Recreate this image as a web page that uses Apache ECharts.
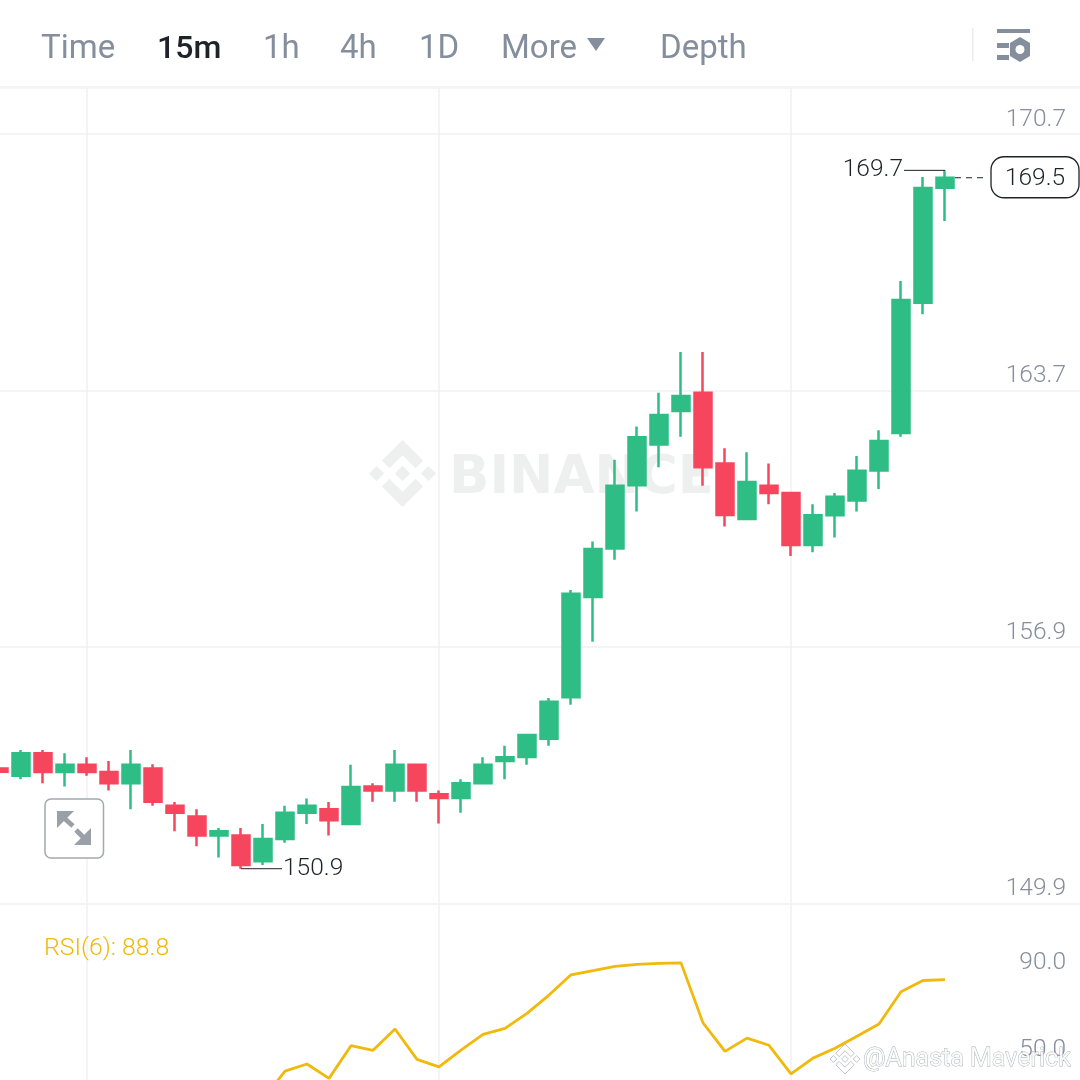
<!DOCTYPE html>
<html>
<head>
<meta charset="utf-8">
<title>15m chart</title>
<script src="https://cdn.jsdelivr.net/npm/echarts@6/dist/echarts.min.js"></script>
<style>
  html, body { margin: 0; padding: 0; background: #fff; }
  #chart { width: 1080px; height: 1080px; }
</style>
</head>
<body>
<div id="chart"></div>
<script>
const opens = [153.58,153.38,153.99,153.48,153.68,153.48,153.18,153.58,152.57,152.28,151.77,151.77,151.07,151.67,152.38,152.48,152.08,153.09,152.98,153.68,152.88,152.78,153.18,153.78,153.89,154.38,155.50,158.21,159.52,161.23,162.33,163.24,163.73,161.82,160.32,161.22,161.02,159.62,160.42,160.82,161.63,162.64,166.16,169.27];
const closes = [153.49,153.99,153.48,153.68,153.48,153.18,153.68,152.68,152.38,151.77,151.88,150.97,151.67,152.38,152.57,152.18,153.08,152.98,153.68,152.98,152.78,153.18,153.68,153.88,154.48,155.38,158.30,159.51,161.22,162.53,163.13,163.64,161.72,160.43,161.32,161.02,159.62,160.42,160.92,161.62,162.43,166.24,169.26,169.54];
const lows = [153.00,153.29,153.18,153.09,153.38,152.98,152.48,152.57,151.88,151.48,151.17,150.87,150.97,151.57,152.08,151.77,152.08,152.68,152.68,152.68,152.09,152.38,153.18,153.29,153.68,154.19,155.30,157.00,159.22,160.52,161.72,162.54,161.22,160.12,160.32,160.72,159.32,159.42,159.82,160.52,161.13,162.54,165.85,168.37];
const highs = [153.70,154.08,154.08,153.99,153.88,153.78,154.08,153.69,152.67,152.48,151.97,151.97,152.08,152.57,152.77,152.67,153.68,153.18,154.08,153.68,152.98,153.29,153.88,154.19,154.48,155.48,158.40,159.71,161.92,162.82,163.73,164.83,164.83,162.23,162.12,161.82,161.02,160.72,161.02,162.02,162.72,166.75,169.56,169.74];
const rsiValues = [null,null,null,null,null,null,null,null,null,null,null,null,33.9,46.7,50.0,43.4,58.4,56.3,66.1,52.1,48.7,56.4,63.6,66.4,73.3,81.7,91.0,92.9,94.9,95.8,96.3,96.5,68.9,55.8,61.9,58.6,45.5,52.7,57.2,62.8,68.4,83.2,88.4,88.8];
const priceTicks = [149.93,156.86,163.79,170.72];
const priceTickLabels = ['149.9','156.9','163.7','170.7'];
const rsiTicks = [50,90];
const rsiTickLabels = ['50.0','90.0'];
const timeLines = [4,20,36];
const periods = ['Time','15m','1h','4h','1D','More','Depth'];
const periodX = [41,157,263,340,419,501,660];
// index of candle, value, which side the label goes
const extremes = [[43,169.74,-1],[11,150.87,1]];

const GREEN = '#2ebd85', RED = '#f6465d', GOLD = '#f0b90b';
const GRAY = '#848e9c', DARK = '#1e2329', LINE = '#f0f1f4', MARK = '#eef0f0';
const FONT = 'Roboto';
const BINANCE_LOGO = 'M38.73 53.2l24.59-24.58 24.6 24.6 14.3-14.31L63.32 0 24.43 38.9z M0 63.31l14.3-14.31 14.31 14.31-14.31 14.3z M38.73 73.41l24.59 24.59 24.6-24.6 14.31 14.29-38.9 38.91-38.91-38.88v-.03z M98 63.31l14.3-14.31 14.31 14.3-14.31 14.32z M77.83 63.3L63.32 48.78 52.59 59.51l-1.24 1.23-2.54 2.54 14.51 14.5 14.51-14.47z';

// 50 bands of 22px, only 44 are filled
const categories = Array.from({length: 50}, (_, i) => String(i));
const candles = opens.map((o, i) => [o, closes[i], lows[i], highs[i]]);

let myChart = echarts.init(document.getElementById('chart'), null, {renderer: 'canvas'});

function xAxisFor(gridIndex) {
  return {
    type: 'category', gridIndex: gridIndex, data: categories, boundaryGap: true,
    axisLine: {show: false}, axisTick: {show: false}, axisLabel: {show: false},
    splitLine: {
      show: true, alignWithLabel: true,
      interval: (index) => timeLines.indexOf(index) >= 0,
      lineStyle: {color: LINE, width: 1.5}
    }
  };
}

function yLabel(ticks, labels) {
  return {
    show: true, inside: true, margin: 22, color: GRAY, fontFamily: FONT, fontWeight: 300, fontSize: 24.5,
    verticalAlign: 'bottom', padding: [0, 0, 2, 0], showMinLabel: true, showMaxLabel: true,
    customValues: ticks,
    formatter: (v) => labels[ticks.indexOf(v)]
  };
}

function renderExtreme(params, api) {
  const pt = api.coord([api.value(0), api.value(1)]);
  const side = api.value(2);
  const end = pt[0] + side * 41;
  return {
    type: 'group',
    children: [
      {type: 'line', shape: {x1: pt[0], y1: pt[1], x2: end, y2: pt[1]}, style: {stroke: DARK, lineWidth: 1}},
      {type: 'text', style: {
        x: end + side, y: pt[1], text: api.value(1).toFixed(1), fill: DARK,
        font: '300 24.5px ' + FONT, align: side < 0 ? 'right' : 'left', verticalAlign: 'middle'
      }}
    ]
  };
}

function renderLast(params, api) {
  const pt = api.coord([api.value(0), api.value(1)]);
  return {
    type: 'group',
    children: [
      {type: 'line', shape: {x1: pt[0] + 10, y1: pt[1], x2: 985, y2: pt[1]}, style: {stroke: DARK, lineWidth: 1, lineDash: [6, 5]}},
      {type: 'rect', shape: {x: 991, y: pt[1] - 21, width: 88, height: 41, r: 13}, style: {fill: '#fff', stroke: DARK, lineWidth: 1.3}},
      {type: 'text', style: {
        x: 1035, y: pt[1] + 1, text: api.value(1).toFixed(1), fill: DARK,
        font: '300 24.5px ' + FONT, align: 'center', verticalAlign: 'middle'
      }}
    ]
  };
}

// watermark behind the candles
function renderWatermark() {
  return {
    type: 'group',
    children: [
      {type: 'path', shape: {pathData: BINANCE_LOGO, x: 369, y: 440, width: 67, height: 67, layout: 'cover'}, style: {fill: MARK}},
      {type: 'text', style: {x: 449, y: 479, text: 'BINANCE', fill: MARK, font: 'bold 53px "DejaVu Sans"', verticalAlign: 'middle'}}
    ]
  };
}

// author tag on top of everything
function renderAuthor() {
  return {
    type: 'group',
    children: [
      {type: 'path', shape: {pathData: BINANCE_LOGO, x: 830, y: 1044, width: 30, height: 30, layout: 'cover'}, style: {fill: 'rgba(255,255,255,0.85)', stroke: '#b4b8bd', lineWidth: 0.8}},
      {type: 'text', style: {x: 863, y: 1060, text: '@Anasta Maverick', fill: 'rgba(255,255,255,0.85)', stroke: '#a8acb2', lineWidth: 0.8, font: '25px ' + FONT, verticalAlign: 'middle'}}
    ]
  };
}

const headerItems = periods.map((name, i) => ({
  type: 'text', x: periodX[i], y: 50,
  style: {
    text: name, fill: name === '15m' ? DARK : GRAY,
    font: name === '15m' ? '500 32px ' + FONT : '33px ' + FONT, verticalAlign: 'middle'
  }
}));

const chromeItems = [
  {type: 'rect', shape: {x: 0, y: 86, width: 1080, height: 3}, style: {fill: '#f5f5f6'}},
  // More triangle
  {type: 'polygon', shape: {points: [[587,38],[605,38],[596,51]]}, style: {fill: GRAY}},
  // settings icon
  {type: 'rect', shape: {x: 972, y: 28, width: 1.5, height: 33}, style: {fill: '#eaecef'}},
  {type: 'rect', shape: {x: 997, y: 29, width: 33, height: 4}, style: {fill: GRAY}},
  {type: 'rect', shape: {x: 997, y: 43, width: 12, height: 5}, style: {fill: GRAY}},
  {type: 'rect', shape: {x: 997, y: 55, width: 12, height: 5}, style: {fill: GRAY}},
  {type: 'polygon', shape: {points: [[1020,37],[1030,43],[1030,56],[1020,62],[1010,56],[1010,43]]}, style: {fill: GRAY}},
  {type: 'circle', shape: {cx: 1020, cy: 49.5, r: 4.5}, style: {fill: '#fff'}},
  // expand button
  {type: 'rect', shape: {x: 45, y: 799, width: 58.5, height: 59, r: 6}, style: {fill: '#fff', stroke: '#a3a9b1', lineWidth: 1.5}, z: 5},
  {type: 'polygon', shape: {points: [[57,811],[74,811],[57,828]]}, style: {fill: '#9aa0a8'}, z: 6},
  {type: 'polygon', shape: {points: [[91,845],[74,845],[91,828]]}, style: {fill: '#9aa0a8'}, z: 6},
  {type: 'line', shape: {x1: 64, y1: 818, x2: 73, y2: 826}, style: {stroke: '#9aa0a8', lineWidth: 5}, z: 6},
  {type: 'line', shape: {x1: 84, y1: 838, x2: 76, y2: 830}, style: {stroke: '#9aa0a8', lineWidth: 5}, z: 6}
];

const rsiLabel = {
  type: 'text', x: 44, y: 949,
  style: {text: 'RSI(6): ' + rsiValues[rsiValues.length - 1].toFixed(1), fill: GOLD, font: '300 24.8px ' + FONT, verticalAlign: 'middle'},
  z: 6
};

const last = closes.length - 1;

myChart.setOption({
  animation: false,
  backgroundColor: '#fff',
  grid: [
    {left: -12, top: 88, width: 1100, height: 815.5, containLabel: false, outerBoundsMode: 'none'},
    {left: -12, top: 903.5, width: 1100, height: 176.5, containLabel: false, outerBoundsMode: 'none'}
  ],
  xAxis: [xAxisFor(0), xAxisFor(1)],
  yAxis: [
    {
      type: 'value', gridIndex: 0, position: 'right', min: 149.93, max: 171.965, scale: true,
      axisLine: {show: false},
      axisTick: {show: false, customValues: priceTicks},
      axisLabel: yLabel(priceTicks, priceTickLabels),
      splitLine: {show: true, lineStyle: {color: LINE, width: 1.5}}
    },
    {
      type: 'value', gridIndex: 1, position: 'right', min: 42.64, max: 123.8, scale: true,
      axisLine: {show: false},
      axisTick: {show: false, customValues: rsiTicks},
      axisLabel: yLabel(rsiTicks, rsiTickLabels),
      splitLine: {show: false}
    }
  ],
  graphic: {elements: headerItems.concat(chromeItems, [rsiLabel])},
  series: [
    {
      type: 'custom', xAxisIndex: 0, yAxisIndex: 0, data: [[0, 160]], renderItem: renderWatermark,
      z: 1, silent: true, clip: false
    },
    {
      type: 'candlestick', xAxisIndex: 0, yAxisIndex: 0, data: candles, barWidth: 17.5, z: 2,
      itemStyle: {color: GREEN, color0: RED, borderColor: GREEN, borderColor0: RED, borderWidth: 2.5}
    },
    {
      type: 'custom', xAxisIndex: 0, yAxisIndex: 0, data: extremes, renderItem: renderExtreme,
      encode: {x: 0, y: 1}, z: 3, silent: true
    },
    {
      type: 'custom', xAxisIndex: 0, yAxisIndex: 0, data: [[last, closes[last]]], renderItem: renderLast,
      encode: {x: 0, y: 1}, z: 3, silent: true
    },
    {
      type: 'line', xAxisIndex: 1, yAxisIndex: 1, data: rsiValues, showSymbol: false, symbol: 'none', z: 3,
      lineStyle: {color: GOLD, width: 2.8}, connectNulls: false
    },
    {
      type: 'custom', xAxisIndex: 0, yAxisIndex: 0, data: [[0, 160]], renderItem: renderAuthor,
      z: 20, silent: true, clip: false
    }
  ]
});
</script>
</body>
</html>
